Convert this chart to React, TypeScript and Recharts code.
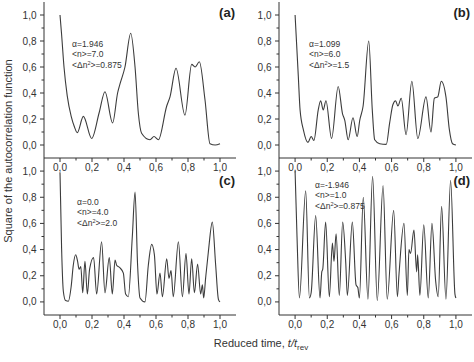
import React from 'react';
import { LineChart, Line, XAxis, YAxis } from 'recharts';

// reduced time t/t_rev and |autocorrelation|^2
const timeA = [0, 0.01, 0.025, 0.045, 0.07, 0.09, 0.108, 0.146, 0.198, 0.245, 0.281, 0.329, 0.36, 0.375, 0.406, 0.442, 0.469, 0.49, 0.51, 0.5625, 0.5875, 0.615, 0.667, 0.6875, 0.725, 0.781, 0.823, 0.844, 0.871, 0.906, 0.9375, 0.97, 1.0];
const valueA = [1.0, 0.85, 0.6, 0.38, 0.22, 0.14, 0.095, 0.22, 0.05, 0.25, 0.41, 0.17, 0.4, 0.47, 0.6, 0.86, 0.6, 0.24, 0.09, 0.04, 0.065, 0.04, 0.3, 0.37, 0.59, 0.23, 0.62, 0.6, 0.64, 0.35, 0.01, 0.0, 0.01];

const timeB = [0, 0.02, 0.031, 0.052, 0.08, 0.1, 0.117, 0.144, 0.159, 0.175, 0.192, 0.227, 0.268, 0.295, 0.309, 0.33, 0.36, 0.386, 0.402, 0.423, 0.458, 0.48, 0.495, 0.526, 0.567, 0.588, 0.608, 0.625, 0.639, 0.66, 0.69, 0.726, 0.763, 0.814, 0.845, 0.866, 0.887, 0.909, 0.938, 0.959, 0.979, 1.0];
const valueB = [1.0, 0.53, 0.27, 0.115, 0.02, 0.065, 0.035, 0.27, 0.34, 0.27, 0.34, 0.05, 0.45, 0.24, 0.19, 0.04, 0.21, 0.065, 0.19, 0.3, 0.8, 0.27, 0.04, 0.01, 0.005, 0.17, 0.31, 0.34, 0.3, 0.36, 0.08, 0.49, 0.05, 0.37, 0.1, 0.36, 0.37, 0.49, 0.37, 0.12, 0.01, 0.0];

const timeC = [0, 0.01, 0.021, 0.035, 0.052, 0.07, 0.083, 0.098, 0.11, 0.119, 0.13, 0.142, 0.156, 0.171, 0.185, 0.21, 0.229, 0.26, 0.281, 0.308, 0.327, 0.344, 0.354, 0.365, 0.375, 0.396, 0.41, 0.427, 0.452, 0.469, 0.485, 0.5, 0.531, 0.552, 0.573, 0.59, 0.606, 0.625, 0.64, 0.667, 0.681, 0.694, 0.708, 0.74, 0.765, 0.7875, 0.806, 0.823, 0.84, 0.86, 0.879, 0.89, 0.898, 0.91, 0.927, 0.952, 0.973, 0.99, 1.0];
const valueC = [0.99, 0.41, 0.08, 0.01, 0.005, 0.12, 0.28, 0.36, 0.31, 0.25, 0.27, 0.07, 0.31, 0.06, 0.25, 0.34, 0.06, 0.46, 0.07, 0.34, 0.06, 0.32, 0.28, 0.27, 0.26, 0.22, 0.06, 0.04, 0.5, 0.84, 0.28, 0.03, 0.0, 0.28, 0.44, 0.36, 0.06, 0.22, 0.04, 0.33, 0.18, 0.24, 0.04, 0.46, 0.04, 0.37, 0.06, 0.33, 0.07, 0.29, 0.06, 0.13, 0.03, 0.18, 0.38, 0.61, 0.28, 0.02, 0.0];

const timeD = [0, 0.012, 0.027, 0.066, 0.089, 0.1, 0.128, 0.155, 0.166, 0.172, 0.19, 0.213, 0.232, 0.242, 0.255, 0.275, 0.296, 0.315, 0.325, 0.356, 0.379, 0.39, 0.4, 0.424, 0.453, 0.482, 0.511, 0.547, 0.573, 0.613, 0.636, 0.646, 0.677, 0.698, 0.708, 0.718, 0.739, 0.756, 0.762, 0.776, 0.8, 0.828, 0.851, 0.874, 0.89, 0.911, 0.938, 0.967, 0.994, 1.0];
const valueD = [1.0, 0.5, 0.03, 0.85, 0.03, 0.07, 0.66, 0.03, 0.23, 0.25, 0.61, 0.04, 0.45, 0.31, 0.52, 0.05, 0.61, 0.3, 0.05, 0.61, 0.13, 0.11, 0.03, 0.8, 0.02, 0.96, 0.01, 0.89, 0.02, 0.7, 0.04, 0.21, 0.6, 0.05, 0.4, 0.37, 0.55, 0.23, 0.36, 0.05, 0.59, 0.03, 0.6, 0.16, 0.04, 0.73, 0.02, 0.93, 0.06, 0.03];

const xTicks = [0, 0.1, 0.2, 0.3, 0.4, 0.5, 0.6, 0.7, 0.8, 0.9, 1.0];
const yTicks = [0, 0.1, 0.2, 0.3, 0.4, 0.5, 0.6, 0.7, 0.8, 0.9, 1.0];

const alphaLabels = ['α=1.946', 'α=1.099', 'α=0.0', 'α=-1.946'];
const meanN = ['<n>=7.0', '<n>=6.0', '<n>=4.0', '<n>=1.0'];
const varN = ['0.875', '1.5', '2.0', '0.875'];
const panelTags = ['(a)', '(b)', '(c)', '(d)'];

const INK = '#333';
const FRAME_GRAY = '#9a9a9a';
const FONT = 'Arial, "Liberation Sans", sans-serif';
const DOMAIN: [number, number] = [-0.1, 1.1];

const toRows = (t: number[], v: number[]) => t.map((x, i) => ({ t: x, v: v[i] }));

const isMajor = (v: number) => Math.round(v * 10) % 2 === 0;
const fmt = (v: number) => v.toFixed(1).replace('.', ',');

const XTick = (props: any) => {
  const { x, y, payload } = props;
  const major = isMajor(payload.value);
  return (
    <g>
      <line x1={x} x2={x} y1={y} y2={y + (major ? 4 : 2.5)} stroke={INK} />
      {major && (
        <text x={x} y={y + 12.5} textAnchor="middle" fontSize={10} fill={INK} fontFamily={FONT}>
          {fmt(payload.value)}
        </text>
      )}
    </g>
  );
};

const YTick = (props: any) => {
  const { x, y, payload } = props;
  const major = isMajor(payload.value);
  return (
    <g>
      <line x1={x - (major ? 4 : 2.5)} x2={x} y1={y} y2={y} stroke={INK} />
      {major && (
        <text x={x - 7.5} y={y + 3.5} textAnchor="end" fontSize={10} fill={INK} fontFamily={FONT}>
          {fmt(payload.value)}
        </text>
      )}
    </g>
  );
};

type PanelProps = {
  data: { t: number; v: number }[];
  left: number;
  top: number;
  height: number;
  yWidth: number;
  margin: { top: number; right: number; bottom: number; left: number };
  xHeight: number;
  topLine: { stroke: string; strokeWidth: number };
  rightLine: { stroke: string; strokeWidth: number };
};

const Panel = ({ data, left, top, height, yWidth, margin, xHeight, topLine, rightLine }: PanelProps) => (
  <div style={{ position: 'absolute', left, top }}>
    <LineChart width={240} height={height} data={data} margin={margin}>
      <XAxis
        dataKey="t"
        type="number"
        domain={DOMAIN}
        allowDataOverflow
        ticks={xTicks}
        interval={0}
        tickSize={0}
        tickMargin={0}
        tickLine={false}
        axisLine={{ stroke: INK }}
        tick={<XTick />}
        height={xHeight}
      />
      <XAxis xAxisId="top" orientation="top" type="number" domain={DOMAIN} height={0} tick={false} tickLine={false} axisLine={topLine} />
      <YAxis
        type="number"
        domain={DOMAIN}
        allowDataOverflow
        ticks={yTicks}
        interval={0}
        tickSize={0}
        tickMargin={0}
        tickLine={false}
        axisLine={{ stroke: INK }}
        tick={<YTick />}
        width={yWidth}
      />
      <YAxis yAxisId="right" orientation="right" type="number" domain={DOMAIN} width={0} tick={false} tickLine={false} axisLine={rightLine} />
      <Line type="monotone" dataKey="v" stroke="#3c3c3c" strokeWidth={1.1} dot={false} isAnimationActive={false} />
    </LineChart>
  </div>
);

// text anchor spots for each panel: [x, first baseline], tag [right x, baseline]
const notePos = [[72, 47], [309, 47], [77, 205], [315, 188]];
const tagPos = [[235, 17], [470, 17], [235, 185], [470, 185]];

export default function App() {
  const thin = { stroke: INK, strokeWidth: 1 };
  const grayTop = { stroke: FRAME_GRAY, strokeWidth: 3 };
  const grayRight = { stroke: FRAME_GRAY, strokeWidth: 3 };
  return (
    <div style={{ position: 'absolute', left: 0, top: 0, width: 474, height: 362, background: '#fff', fontFamily: FONT }}>
      <Panel data={toRows(timeA, valueA)} left={0} top={0} height={176} yWidth={44} xHeight={18}
        margin={{ top: 2, right: 4, bottom: 0, left: 0 }} topLine={grayTop} rightLine={thin} />
      <Panel data={toRows(timeB, valueB)} left={234} top={0} height={176} yWidth={45} xHeight={18}
        margin={{ top: 2, right: 2, bottom: 0, left: 0 }} topLine={grayTop} rightLine={grayRight} />
      <Panel data={toRows(timeC, valueC)} left={0} top={150} height={212} yWidth={44} xHeight={20}
        margin={{ top: 8, right: 4, bottom: 27, left: 0 }} topLine={thin} rightLine={thin} />
      <Panel data={toRows(timeD, valueD)} left={234} top={150} height={212} yWidth={45} xHeight={20}
        margin={{ top: 8, right: 2, bottom: 27, left: 0 }} topLine={thin} rightLine={grayRight} />

      <svg width={474} height={362} style={{ position: 'absolute', left: 0, top: 0, pointerEvents: 'none' }}>
        {notePos.map(([x, y], i) => (
          <g key={i} fontSize={8.5} fill={INK} fontFamily={FONT}>
            <text x={x} y={y}>{alphaLabels[i]}</text>
            <text x={x} y={y + 10}>{meanN[i]}</text>
            <text x={x} y={y + 21}>
              {'<Δn'}
              <tspan fontSize={5.5} dy={-3}>2</tspan>
              <tspan dy={3}>{'>=' + varN[i]}</tspan>
            </text>
          </g>
        ))}
        {tagPos.map(([x, y], i) => (
          <text key={i} x={x} y={y} textAnchor="end" fontSize={13} fontWeight="bold" fill="#222" fontFamily={FONT}>
            {panelTags[i]}
          </text>
        ))}
        <text x={12} y={151} transform="rotate(-90 12 151)" textAnchor="middle" fontSize={11} fill={INK} fontFamily={FONT}>
          Square of the autocorrelation function
        </text>
        <text x={261} y={347} textAnchor="middle" fontSize={11} fill={INK} fontFamily={FONT}>
          Reduced time, <tspan fontStyle="italic">t/t</tspan>
          <tspan fontSize={8} dy={3}>rev</tspan>
        </text>
      </svg>
    </div>
  );
}
